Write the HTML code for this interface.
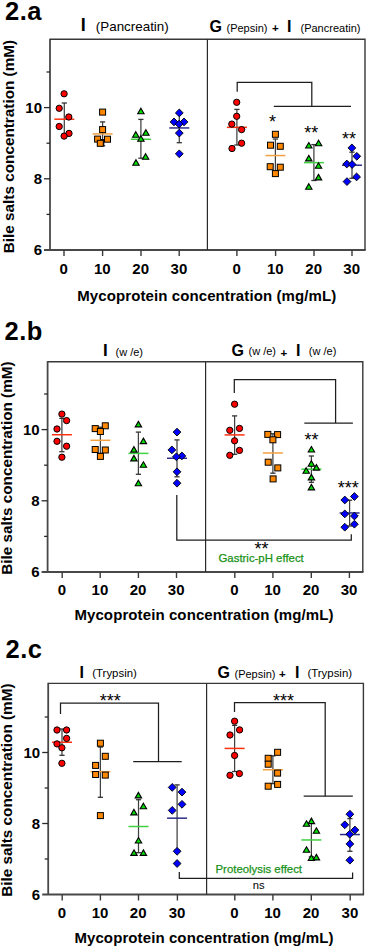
<!DOCTYPE html>
<html><head><meta charset="utf-8"><style>
html,body{margin:0;padding:0;background:#fff;width:367px;height:947px;overflow:hidden;position:relative}
svg text{font-family:"Liberation Sans", sans-serif}
</style></head><body>
<svg width="367" height="947" viewBox="0 0 367 947" style="position:absolute;left:0;top:0;font-family:'Liberation Sans', sans-serif">
<text x="5" y="20" font-size="25.5" font-weight="700" text-anchor="start" fill="#000" letter-spacing="0.5">2.a</text>
<line x1="50" y1="38.7" x2="50" y2="250" stroke="#484848" stroke-width="1.8"/>
<line x1="44" y1="250" x2="365.7" y2="250" stroke="#484848" stroke-width="1.8"/>
<path d="M50,39.3 H365 V250" fill="none" stroke="#383838" stroke-width="1.4"/>
<line x1="207.4" y1="39.3" x2="207.4" y2="250" stroke="#2a2a2a" stroke-width="1.2"/>
<text x="42" y="255.3" font-size="15" font-weight="700" text-anchor="end" fill="#000" >6</text>
<line x1="46.5" y1="214.4" x2="50" y2="214.4" stroke="#2a2a2a" stroke-width="1.3"/>
<line x1="44" y1="178.8" x2="50" y2="178.8" stroke="#2a2a2a" stroke-width="1.3"/>
<text x="42" y="184.1" font-size="15" font-weight="700" text-anchor="end" fill="#000" >8</text>
<line x1="46.5" y1="143.2" x2="50" y2="143.2" stroke="#2a2a2a" stroke-width="1.3"/>
<line x1="44" y1="107.6" x2="50" y2="107.6" stroke="#2a2a2a" stroke-width="1.3"/>
<text x="42" y="112.9" font-size="15" font-weight="700" text-anchor="end" fill="#000" >10</text>
<line x1="46.5" y1="72.0" x2="50" y2="72.0" stroke="#2a2a2a" stroke-width="1.3"/>
<line x1="64" y1="250" x2="64" y2="256" stroke="#3a3a3a" stroke-width="1.4"/>
<text x="63.7" y="274" font-size="15" font-weight="700" text-anchor="middle" fill="#000" >0</text>
<line x1="102.6" y1="250" x2="102.6" y2="256" stroke="#3a3a3a" stroke-width="1.4"/>
<text x="102.3" y="274" font-size="15" font-weight="700" text-anchor="middle" fill="#000" >10</text>
<line x1="141" y1="250" x2="141" y2="256" stroke="#3a3a3a" stroke-width="1.4"/>
<text x="140.7" y="274" font-size="15" font-weight="700" text-anchor="middle" fill="#000" >20</text>
<line x1="179.2" y1="250" x2="179.2" y2="256" stroke="#3a3a3a" stroke-width="1.4"/>
<text x="178.9" y="274" font-size="15" font-weight="700" text-anchor="middle" fill="#000" >30</text>
<line x1="236.9" y1="250" x2="236.9" y2="256" stroke="#3a3a3a" stroke-width="1.4"/>
<text x="236.6" y="274" font-size="15" font-weight="700" text-anchor="middle" fill="#000" >0</text>
<line x1="275.6" y1="250" x2="275.6" y2="256" stroke="#3a3a3a" stroke-width="1.4"/>
<text x="275.3" y="274" font-size="15" font-weight="700" text-anchor="middle" fill="#000" >10</text>
<line x1="314" y1="250" x2="314" y2="256" stroke="#3a3a3a" stroke-width="1.4"/>
<text x="313.7" y="274" font-size="15" font-weight="700" text-anchor="middle" fill="#000" >20</text>
<line x1="352" y1="250" x2="352" y2="256" stroke="#3a3a3a" stroke-width="1.4"/>
<text x="351.7" y="274" font-size="15" font-weight="700" text-anchor="middle" fill="#000" >30</text>
<text x="14.3" y="253.2" font-size="15.3" font-weight="700" text-anchor="start" fill="#000" transform="rotate(-90 14.3 253.2)">Bile salts concentration (mM)</text>
<text x="77.2" y="301" font-size="15" font-weight="700" text-anchor="start" fill="#000" letter-spacing="0.1">Mycoprotein concentration (mg/mL)</text>
<text x="80.8" y="31.4" font-size="18" font-weight="700" text-anchor="start" fill="#000" >I</text>
<text x="95.8" y="31" font-size="13.4" font-weight="400" text-anchor="start" fill="#000" >(Pancreatin)</text>
<text x="209.5" y="31.7" font-size="16" font-weight="700" text-anchor="start" fill="#000" >G</text>
<text x="226.5" y="32" font-size="11" font-weight="400" text-anchor="start" fill="#000" >(Pepsin)</text>
<text x="272" y="32" font-size="11.5" font-weight="700" text-anchor="start" fill="#000" >+</text>
<text x="287" y="31.7" font-size="16" font-weight="700" text-anchor="start" fill="#000" >I</text>
<text x="300.5" y="32" font-size="11" font-weight="400" text-anchor="start" fill="#000" >(Pancreatin)</text>
<line x1="64.3" y1="103" x2="64.3" y2="135.37" stroke="#404040" stroke-width="1.25"/>
<line x1="61.7" y1="103" x2="66.9" y2="103" stroke="#333" stroke-width="1.3"/>
<line x1="61.7" y1="135.37" x2="66.9" y2="135.37" stroke="#333" stroke-width="1.3"/>
<line x1="54.3" y1="119.18" x2="74.3" y2="119.18" stroke="#ff3010" stroke-width="1.5"/>
<circle cx="64.1" cy="93.8" r="3.15" fill="#ff0000" stroke="#000" stroke-width="1"/>
<circle cx="59.2" cy="108.3" r="3.15" fill="#ff0000" stroke="#000" stroke-width="1"/>
<circle cx="68.8" cy="117" r="3.15" fill="#ff0000" stroke="#000" stroke-width="1"/>
<circle cx="59.2" cy="126.5" r="3.15" fill="#ff0000" stroke="#000" stroke-width="1"/>
<circle cx="69" cy="133.4" r="3.15" fill="#ff0000" stroke="#000" stroke-width="1"/>
<circle cx="64.1" cy="136.1" r="3.15" fill="#ff0000" stroke="#000" stroke-width="1"/>
<line x1="102.6" y1="121.9" x2="102.6" y2="145.83" stroke="#404040" stroke-width="1.25"/>
<line x1="100.0" y1="121.9" x2="105.2" y2="121.9" stroke="#333" stroke-width="1.3"/>
<line x1="100.0" y1="145.83" x2="105.2" y2="145.83" stroke="#333" stroke-width="1.3"/>
<line x1="92.6" y1="133.9" x2="112.6" y2="133.9" stroke="#f5a040" stroke-width="1.5"/>
<rect x="97.8" y="139.6" width="6" height="6" fill="#ff8800" stroke="#000" stroke-width="1"/>
<rect x="99.6" y="109.1" width="6" height="6" fill="#ff8800" stroke="#000" stroke-width="1"/>
<rect x="99.6" y="126.6" width="6" height="6" fill="#ff8800" stroke="#000" stroke-width="1"/>
<rect x="94.6" y="136.1" width="6" height="6" fill="#ff8800" stroke="#000" stroke-width="1"/>
<rect x="104.5" y="136.2" width="6" height="6" fill="#ff8800" stroke="#000" stroke-width="1"/>
<rect x="97.3" y="140.3" width="6" height="6" fill="#ff8800" stroke="#000" stroke-width="1"/>
<line x1="140.9" y1="119.4" x2="140.9" y2="158.2" stroke="#404040" stroke-width="1.25"/>
<line x1="138.3" y1="119.4" x2="143.5" y2="119.4" stroke="#333" stroke-width="1.3"/>
<line x1="138.3" y1="158.2" x2="143.5" y2="158.2" stroke="#333" stroke-width="1.3"/>
<line x1="130.9" y1="139.25" x2="150.9" y2="139.25" stroke="#40d040" stroke-width="1.5"/>
<path d="M140.9,108.2 L144.1,113.7 L137.7,113.7 Z" fill="#00dd00" stroke="#000" stroke-width="1.1" stroke-linejoin="miter"/>
<path d="M135.8,131.7 L139.0,137.2 L132.6,137.2 Z" fill="#00dd00" stroke="#000" stroke-width="1.1" stroke-linejoin="miter"/>
<path d="M145.9,129.7 L149.1,135.2 L142.7,135.2 Z" fill="#00dd00" stroke="#000" stroke-width="1.1" stroke-linejoin="miter"/>
<path d="M140.9,135.7 L144.1,141.2 L137.7,141.2 Z" fill="#00dd00" stroke="#000" stroke-width="1.1" stroke-linejoin="miter"/>
<path d="M145.6,153.7 L148.8,159.2 L142.4,159.2 Z" fill="#00dd00" stroke="#000" stroke-width="1.1" stroke-linejoin="miter"/>
<path d="M136,159.7 L139.2,165.2 L132.8,165.2 Z" fill="#00dd00" stroke="#000" stroke-width="1.1" stroke-linejoin="miter"/>
<line x1="179.3" y1="113.74" x2="179.3" y2="142.7" stroke="#404040" stroke-width="1.25"/>
<line x1="176.7" y1="113.74" x2="181.9" y2="113.74" stroke="#333" stroke-width="1.3"/>
<line x1="176.7" y1="142.7" x2="181.9" y2="142.7" stroke="#333" stroke-width="1.3"/>
<line x1="169.3" y1="127.95" x2="189.3" y2="127.95" stroke="#2c2c8a" stroke-width="1.5"/>
<path d="M179.3,109.0 L183.2,112.9 L179.3,116.8 L175.4,112.9 Z" fill="#0000ff" stroke="#000" stroke-width="0.9"/>
<path d="M174,118.0 L177.9,121.9 L174,125.8 L170.1,121.9 Z" fill="#0000ff" stroke="#000" stroke-width="0.9"/>
<path d="M184,118.0 L187.9,121.9 L184,125.8 L180.1,121.9 Z" fill="#0000ff" stroke="#000" stroke-width="0.9"/>
<path d="M179.1,120.2 L183.0,124.1 L179.1,128.0 L175.2,124.1 Z" fill="#0000ff" stroke="#000" stroke-width="0.9"/>
<path d="M179.3,129.2 L183.2,133.1 L179.3,137.0 L175.4,133.1 Z" fill="#0000ff" stroke="#000" stroke-width="0.9"/>
<path d="M179.3,149.9 L183.2,153.8 L179.3,157.7 L175.4,153.8 Z" fill="#0000ff" stroke="#000" stroke-width="0.9"/>
<line x1="236.9" y1="109.4" x2="236.9" y2="145" stroke="#404040" stroke-width="1.25"/>
<line x1="234.3" y1="109.4" x2="239.5" y2="109.4" stroke="#333" stroke-width="1.3"/>
<line x1="234.3" y1="145" x2="239.5" y2="145" stroke="#333" stroke-width="1.3"/>
<line x1="226.9" y1="127.33" x2="246.9" y2="127.33" stroke="#ff3010" stroke-width="1.5"/>
<circle cx="236.7" cy="102.3" r="3.15" fill="#ff0000" stroke="#000" stroke-width="1"/>
<circle cx="236.7" cy="116.3" r="3.15" fill="#ff0000" stroke="#000" stroke-width="1"/>
<circle cx="231.8" cy="124.1" r="3.15" fill="#ff0000" stroke="#000" stroke-width="1"/>
<circle cx="241.6" cy="129.6" r="3.15" fill="#ff0000" stroke="#000" stroke-width="1"/>
<circle cx="241.6" cy="143.2" r="3.15" fill="#ff0000" stroke="#000" stroke-width="1"/>
<circle cx="232" cy="148.5" r="3.15" fill="#ff0000" stroke="#000" stroke-width="1"/>
<line x1="275.4" y1="139" x2="275.4" y2="171.23" stroke="#404040" stroke-width="1.25"/>
<line x1="272.8" y1="139" x2="278.0" y2="139" stroke="#333" stroke-width="1.3"/>
<line x1="272.8" y1="171.23" x2="278.0" y2="171.23" stroke="#333" stroke-width="1.3"/>
<line x1="265.4" y1="155.55" x2="285.4" y2="155.55" stroke="#f5a040" stroke-width="1.5"/>
<rect x="272.4" y="131.3" width="6" height="6" fill="#ff8800" stroke="#000" stroke-width="1"/>
<rect x="267.5" y="142.2" width="6" height="6" fill="#ff8800" stroke="#000" stroke-width="1"/>
<rect x="277.3" y="143.3" width="6" height="6" fill="#ff8800" stroke="#000" stroke-width="1"/>
<rect x="267.2" y="163.7" width="6" height="6" fill="#ff8800" stroke="#000" stroke-width="1"/>
<rect x="277.3" y="164.2" width="6" height="6" fill="#ff8800" stroke="#000" stroke-width="1"/>
<rect x="272.4" y="170.6" width="6" height="6" fill="#ff8800" stroke="#000" stroke-width="1"/>
<line x1="313.9" y1="144.6" x2="313.9" y2="180.5" stroke="#404040" stroke-width="1.25"/>
<line x1="311.3" y1="144.6" x2="316.5" y2="144.6" stroke="#333" stroke-width="1.3"/>
<line x1="311.3" y1="180.5" x2="316.5" y2="180.5" stroke="#333" stroke-width="1.3"/>
<line x1="303.9" y1="162.63" x2="323.9" y2="162.63" stroke="#40d040" stroke-width="1.5"/>
<path d="M318.6,140.2 L321.8,145.7 L315.4,145.7 Z" fill="#00dd00" stroke="#000" stroke-width="1.1" stroke-linejoin="miter"/>
<path d="M308.8,142.5 L312.0,148.0 L305.6,148.0 Z" fill="#00dd00" stroke="#000" stroke-width="1.1" stroke-linejoin="miter"/>
<path d="M308.8,155.4 L312.0,160.9 L305.6,160.9 Z" fill="#00dd00" stroke="#000" stroke-width="1.1" stroke-linejoin="miter"/>
<path d="M318.5,162.8 L321.7,168.3 L315.3,168.3 Z" fill="#00dd00" stroke="#000" stroke-width="1.1" stroke-linejoin="miter"/>
<path d="M318.5,174.4 L321.7,179.9 L315.3,179.9 Z" fill="#00dd00" stroke="#000" stroke-width="1.1" stroke-linejoin="miter"/>
<path d="M308.8,183.7 L312.0,189.2 L305.6,189.2 Z" fill="#00dd00" stroke="#000" stroke-width="1.1" stroke-linejoin="miter"/>
<line x1="352" y1="152.2" x2="352" y2="178.3" stroke="#404040" stroke-width="1.25"/>
<line x1="349.4" y1="152.2" x2="354.6" y2="152.2" stroke="#333" stroke-width="1.3"/>
<line x1="349.4" y1="178.3" x2="354.6" y2="178.3" stroke="#333" stroke-width="1.3"/>
<line x1="342" y1="165.2" x2="362" y2="165.2" stroke="#2c2c8a" stroke-width="1.5"/>
<path d="M351.9,144.0 L355.8,147.9 L351.9,151.8 L348.0,147.9 Z" fill="#0000ff" stroke="#000" stroke-width="0.9"/>
<path d="M356.8,152.4 L360.7,156.3 L356.8,160.2 L352.9,156.3 Z" fill="#0000ff" stroke="#000" stroke-width="0.9"/>
<path d="M346.8,160.1 L350.7,164 L346.8,167.9 L342.9,164 Z" fill="#0000ff" stroke="#000" stroke-width="0.9"/>
<path d="M352.1,160.6 L356.0,164.5 L352.1,168.4 L348.2,164.5 Z" fill="#0000ff" stroke="#000" stroke-width="0.9"/>
<path d="M356.6,173.0 L360.5,176.9 L356.6,180.8 L352.7,176.9 Z" fill="#0000ff" stroke="#000" stroke-width="0.9"/>
<path d="M347,177.7 L350.9,181.6 L347,185.5 L343.1,181.6 Z" fill="#0000ff" stroke="#000" stroke-width="0.9"/>
<path d="M237.2,91.7 V82.4 H311.8 V106.3" fill="none" stroke="#1e1e1e" stroke-width="1.25"/>
<line x1="273.8" y1="106.3" x2="351" y2="106.3" stroke="#1e1e1e" stroke-width="1.25"/>
<text x="272.4" y="127.8" font-size="18" font-weight="400" text-anchor="middle" fill="#000" >*</text>
<text x="311.2" y="139.3" font-size="18" font-weight="400" text-anchor="middle" fill="#000" >**</text>
<text x="348.9" y="144.5" font-size="18" font-weight="400" text-anchor="middle" fill="#000" >**</text>
<text x="4.5" y="340.2" font-size="25.5" font-weight="700" text-anchor="start" fill="#000" letter-spacing="0.5">2.b</text>
<line x1="47.6" y1="361.1" x2="47.6" y2="572" stroke="#484848" stroke-width="1.8"/>
<line x1="41.6" y1="572" x2="363.5" y2="572" stroke="#484848" stroke-width="1.8"/>
<path d="M47.6,361.7 H362.8 V572" fill="none" stroke="#383838" stroke-width="1.4"/>
<line x1="205.6" y1="361.7" x2="205.6" y2="572" stroke="#2a2a2a" stroke-width="1.2"/>
<text x="39.6" y="577.3" font-size="15" font-weight="700" text-anchor="end" fill="#000" >6</text>
<line x1="44.1" y1="536.4" x2="47.6" y2="536.4" stroke="#2a2a2a" stroke-width="1.3"/>
<line x1="41.6" y1="500.8" x2="47.6" y2="500.8" stroke="#2a2a2a" stroke-width="1.3"/>
<text x="39.6" y="506.1" font-size="15" font-weight="700" text-anchor="end" fill="#000" >8</text>
<line x1="44.1" y1="465.2" x2="47.6" y2="465.2" stroke="#2a2a2a" stroke-width="1.3"/>
<line x1="41.6" y1="429.6" x2="47.6" y2="429.6" stroke="#2a2a2a" stroke-width="1.3"/>
<text x="39.6" y="434.9" font-size="15" font-weight="700" text-anchor="end" fill="#000" >10</text>
<line x1="44.1" y1="394.0" x2="47.6" y2="394.0" stroke="#2a2a2a" stroke-width="1.3"/>
<line x1="62.2" y1="572" x2="62.2" y2="578" stroke="#3a3a3a" stroke-width="1.4"/>
<text x="61.9" y="595.2" font-size="15" font-weight="700" text-anchor="middle" fill="#000" >0</text>
<line x1="100.2" y1="572" x2="100.2" y2="578" stroke="#3a3a3a" stroke-width="1.4"/>
<text x="99.9" y="595.2" font-size="15" font-weight="700" text-anchor="middle" fill="#000" >10</text>
<line x1="138.4" y1="572" x2="138.4" y2="578" stroke="#3a3a3a" stroke-width="1.4"/>
<text x="138.1" y="595.2" font-size="15" font-weight="700" text-anchor="middle" fill="#000" >20</text>
<line x1="176.5" y1="572" x2="176.5" y2="578" stroke="#3a3a3a" stroke-width="1.4"/>
<text x="176.2" y="595.2" font-size="15" font-weight="700" text-anchor="middle" fill="#000" >30</text>
<line x1="234.8" y1="572" x2="234.8" y2="578" stroke="#3a3a3a" stroke-width="1.4"/>
<text x="234.5" y="595.2" font-size="15" font-weight="700" text-anchor="middle" fill="#000" >0</text>
<line x1="272.9" y1="572" x2="272.9" y2="578" stroke="#3a3a3a" stroke-width="1.4"/>
<text x="272.6" y="595.2" font-size="15" font-weight="700" text-anchor="middle" fill="#000" >10</text>
<line x1="311.3" y1="572" x2="311.3" y2="578" stroke="#3a3a3a" stroke-width="1.4"/>
<text x="311.0" y="595.2" font-size="15" font-weight="700" text-anchor="middle" fill="#000" >20</text>
<line x1="349.4" y1="572" x2="349.4" y2="578" stroke="#3a3a3a" stroke-width="1.4"/>
<text x="349.1" y="595.2" font-size="15" font-weight="700" text-anchor="middle" fill="#000" >30</text>
<text x="12" y="574.7" font-size="15.3" font-weight="700" text-anchor="start" fill="#000" transform="rotate(-90 12 574.7)">Bile salts concentration (mM)</text>
<text x="74.4" y="620" font-size="15" font-weight="700" text-anchor="start" fill="#000" letter-spacing="0.1">Mycoprotein concentration (mg/mL)</text>
<text x="103" y="356" font-size="17" font-weight="700" text-anchor="start" fill="#000" >I</text>
<text x="115.5" y="355.5" font-size="11" font-weight="400" text-anchor="start" fill="#000" >(w /e)</text>
<text x="231.5" y="356" font-size="16" font-weight="700" text-anchor="start" fill="#000" >G</text>
<text x="248.5" y="355.2" font-size="11" font-weight="400" text-anchor="start" fill="#000" >(w /e)</text>
<text x="280.5" y="356.5" font-size="11.5" font-weight="700" text-anchor="start" fill="#000" >+</text>
<text x="296" y="356" font-size="16" font-weight="700" text-anchor="start" fill="#000" >I</text>
<text x="308.8" y="355.2" font-size="11" font-weight="400" text-anchor="start" fill="#000" >(w /e)</text>
<line x1="61.9" y1="418.38" x2="61.9" y2="451.7" stroke="#404040" stroke-width="1.25"/>
<line x1="59.3" y1="418.38" x2="64.5" y2="418.38" stroke="#333" stroke-width="1.3"/>
<line x1="59.3" y1="451.7" x2="64.5" y2="451.7" stroke="#333" stroke-width="1.3"/>
<line x1="51.9" y1="434.73" x2="71.9" y2="434.73" stroke="#ff3010" stroke-width="1.5"/>
<circle cx="61.9" cy="414.1" r="3.15" fill="#ff0000" stroke="#000" stroke-width="1"/>
<circle cx="66.6" cy="420.6" r="3.15" fill="#ff0000" stroke="#000" stroke-width="1"/>
<circle cx="57" cy="429" r="3.15" fill="#ff0000" stroke="#000" stroke-width="1"/>
<circle cx="57" cy="441.3" r="3.15" fill="#ff0000" stroke="#000" stroke-width="1"/>
<circle cx="66.6" cy="446.2" r="3.15" fill="#ff0000" stroke="#000" stroke-width="1"/>
<circle cx="61.9" cy="457.2" r="3.15" fill="#ff0000" stroke="#000" stroke-width="1"/>
<line x1="100.4" y1="427.17" x2="100.4" y2="453.43" stroke="#404040" stroke-width="1.25"/>
<line x1="97.8" y1="427.17" x2="103.0" y2="427.17" stroke="#333" stroke-width="1.3"/>
<line x1="97.8" y1="453.43" x2="103.0" y2="453.43" stroke="#333" stroke-width="1.3"/>
<line x1="90.4" y1="440.3" x2="110.4" y2="440.3" stroke="#f5a040" stroke-width="1.5"/>
<rect x="102.3" y="422.8" width="6" height="6" fill="#ff8800" stroke="#000" stroke-width="1"/>
<rect x="92.2" y="425.6" width="6" height="6" fill="#ff8800" stroke="#000" stroke-width="1"/>
<rect x="97.4" y="428.5" width="6" height="6" fill="#ff8800" stroke="#000" stroke-width="1"/>
<rect x="92.2" y="446.5" width="6" height="6" fill="#ff8800" stroke="#000" stroke-width="1"/>
<rect x="102.3" y="447" width="6" height="6" fill="#ff8800" stroke="#000" stroke-width="1"/>
<rect x="97.4" y="453.4" width="6" height="6" fill="#ff8800" stroke="#000" stroke-width="1"/>
<line x1="138.4" y1="432.1" x2="138.4" y2="474.3" stroke="#404040" stroke-width="1.25"/>
<line x1="135.8" y1="432.1" x2="141.0" y2="432.1" stroke="#333" stroke-width="1.3"/>
<line x1="135.8" y1="474.3" x2="141.0" y2="474.3" stroke="#333" stroke-width="1.3"/>
<line x1="128.4" y1="453.38" x2="148.4" y2="453.38" stroke="#40d040" stroke-width="1.5"/>
<path d="M138.4,421.4 L141.6,426.9 L135.2,426.9 Z" fill="#00dd00" stroke="#000" stroke-width="1.1" stroke-linejoin="miter"/>
<path d="M143.4,438.1 L146.6,443.6 L140.2,443.6 Z" fill="#00dd00" stroke="#000" stroke-width="1.1" stroke-linejoin="miter"/>
<path d="M133.9,446.6 L137.1,452.1 L130.7,452.1 Z" fill="#00dd00" stroke="#000" stroke-width="1.1" stroke-linejoin="miter"/>
<path d="M133.9,455.4 L137.1,460.9 L130.7,460.9 Z" fill="#00dd00" stroke="#000" stroke-width="1.1" stroke-linejoin="miter"/>
<path d="M143.4,461.8 L146.6,467.3 L140.2,467.3 Z" fill="#00dd00" stroke="#000" stroke-width="1.1" stroke-linejoin="miter"/>
<path d="M138.4,480.2 L141.6,485.7 L135.2,485.7 Z" fill="#00dd00" stroke="#000" stroke-width="1.1" stroke-linejoin="miter"/>
<line x1="177" y1="439.9" x2="177" y2="476.8" stroke="#404040" stroke-width="1.25"/>
<line x1="174.4" y1="439.9" x2="179.6" y2="439.9" stroke="#333" stroke-width="1.3"/>
<line x1="174.4" y1="476.8" x2="179.6" y2="476.8" stroke="#333" stroke-width="1.3"/>
<line x1="167" y1="458.28" x2="187" y2="458.28" stroke="#2c2c8a" stroke-width="1.5"/>
<path d="M177,428.2 L180.9,432.1 L177,436.0 L173.1,432.1 Z" fill="#0000ff" stroke="#000" stroke-width="0.9"/>
<path d="M171.9,446.0 L175.8,449.9 L171.9,453.8 L168.0,449.9 Z" fill="#0000ff" stroke="#000" stroke-width="0.9"/>
<path d="M181.9,452.0 L185.8,455.9 L181.9,459.8 L178.0,455.9 Z" fill="#0000ff" stroke="#000" stroke-width="0.9"/>
<path d="M176.4,452.9 L180.3,456.8 L176.4,460.7 L172.5,456.8 Z" fill="#0000ff" stroke="#000" stroke-width="0.9"/>
<path d="M177,467.9 L180.9,471.8 L177,475.7 L173.1,471.8 Z" fill="#0000ff" stroke="#000" stroke-width="0.9"/>
<path d="M177,479.3 L180.9,483.2 L177,487.1 L173.1,483.2 Z" fill="#0000ff" stroke="#000" stroke-width="0.9"/>
<line x1="234.6" y1="415.9" x2="234.6" y2="454.3" stroke="#404040" stroke-width="1.25"/>
<line x1="232.0" y1="415.9" x2="237.2" y2="415.9" stroke="#333" stroke-width="1.3"/>
<line x1="232.0" y1="454.3" x2="237.2" y2="454.3" stroke="#333" stroke-width="1.3"/>
<line x1="224.6" y1="434.9" x2="244.6" y2="434.9" stroke="#ff3010" stroke-width="1.5"/>
<circle cx="234.6" cy="404.2" r="3.15" fill="#ff0000" stroke="#000" stroke-width="1"/>
<circle cx="239.5" cy="428.4" r="3.15" fill="#ff0000" stroke="#000" stroke-width="1"/>
<circle cx="229.8" cy="430.3" r="3.15" fill="#ff0000" stroke="#000" stroke-width="1"/>
<circle cx="234.6" cy="440.8" r="3.15" fill="#ff0000" stroke="#000" stroke-width="1"/>
<circle cx="239.5" cy="450.4" r="3.15" fill="#ff0000" stroke="#000" stroke-width="1"/>
<circle cx="229.8" cy="455.3" r="3.15" fill="#ff0000" stroke="#000" stroke-width="1"/>
<line x1="272.9" y1="433.8" x2="272.9" y2="473.2" stroke="#404040" stroke-width="1.25"/>
<line x1="270.3" y1="433.8" x2="275.5" y2="433.8" stroke="#333" stroke-width="1.3"/>
<line x1="270.3" y1="473.2" x2="275.5" y2="473.2" stroke="#333" stroke-width="1.3"/>
<line x1="262.9" y1="452.97" x2="282.9" y2="452.97" stroke="#f5a040" stroke-width="1.5"/>
<rect x="264.8" y="431.4" width="6" height="6" fill="#ff8800" stroke="#000" stroke-width="1"/>
<rect x="274.6" y="431.6" width="6" height="6" fill="#ff8800" stroke="#000" stroke-width="1"/>
<rect x="269.9" y="436.8" width="6" height="6" fill="#ff8800" stroke="#000" stroke-width="1"/>
<rect x="265.2" y="459.2" width="6" height="6" fill="#ff8800" stroke="#000" stroke-width="1"/>
<rect x="274.8" y="464.9" width="6" height="6" fill="#ff8800" stroke="#000" stroke-width="1"/>
<rect x="270.1" y="475.9" width="6" height="6" fill="#ff8800" stroke="#000" stroke-width="1"/>
<line x1="311.4" y1="456" x2="311.4" y2="482.3" stroke="#404040" stroke-width="1.25"/>
<line x1="308.8" y1="456" x2="314.0" y2="456" stroke="#333" stroke-width="1.3"/>
<line x1="308.8" y1="482.3" x2="314.0" y2="482.3" stroke="#333" stroke-width="1.3"/>
<line x1="301.4" y1="469.18" x2="321.4" y2="469.18" stroke="#40d040" stroke-width="1.5"/>
<path d="M311.4,446.5 L314.6,452.0 L308.2,452.0 Z" fill="#00dd00" stroke="#000" stroke-width="1.1" stroke-linejoin="miter"/>
<path d="M311.4,460.7 L314.6,466.2 L308.2,466.2 Z" fill="#00dd00" stroke="#000" stroke-width="1.1" stroke-linejoin="miter"/>
<path d="M316.4,464.6 L319.6,470.1 L313.2,470.1 Z" fill="#00dd00" stroke="#000" stroke-width="1.1" stroke-linejoin="miter"/>
<path d="M306.2,467.7 L309.4,473.2 L303.0,473.2 Z" fill="#00dd00" stroke="#000" stroke-width="1.1" stroke-linejoin="miter"/>
<path d="M311.4,474.4 L314.6,479.9 L308.2,479.9 Z" fill="#00dd00" stroke="#000" stroke-width="1.1" stroke-linejoin="miter"/>
<path d="M311.4,484.4 L314.6,489.9 L308.2,489.9 Z" fill="#00dd00" stroke="#000" stroke-width="1.1" stroke-linejoin="miter"/>
<line x1="349.6" y1="500.2" x2="349.6" y2="526" stroke="#404040" stroke-width="1.25"/>
<line x1="347.0" y1="500.2" x2="352.2" y2="500.2" stroke="#333" stroke-width="1.3"/>
<line x1="347.0" y1="526" x2="352.2" y2="526" stroke="#333" stroke-width="1.3"/>
<line x1="339.6" y1="512.97" x2="359.6" y2="512.97" stroke="#2c2c8a" stroke-width="1.5"/>
<path d="M354.4,492.6 L358.3,496.5 L354.4,500.4 L350.5,496.5 Z" fill="#0000ff" stroke="#000" stroke-width="0.9"/>
<path d="M344.8,496.1 L348.7,500 L344.8,503.9 L340.9,500 Z" fill="#0000ff" stroke="#000" stroke-width="0.9"/>
<path d="M344.8,510.0 L348.7,513.9 L344.8,517.8 L340.9,513.9 Z" fill="#0000ff" stroke="#000" stroke-width="0.9"/>
<path d="M354.4,512.1 L358.3,516 L354.4,519.9 L350.5,516 Z" fill="#0000ff" stroke="#000" stroke-width="0.9"/>
<path d="M354.4,520.3 L358.3,524.2 L354.4,528.1 L350.5,524.2 Z" fill="#0000ff" stroke="#000" stroke-width="0.9"/>
<path d="M344.8,523.3 L348.7,527.2 L344.8,531.1 L340.9,527.2 Z" fill="#0000ff" stroke="#000" stroke-width="0.9"/>
<path d="M234.3,393 V379.5 H335.6 V423" fill="none" stroke="#1e1e1e" stroke-width="1.25"/>
<line x1="304.3" y1="423" x2="352.9" y2="423" stroke="#1e1e1e" stroke-width="1.25"/>
<text x="311.6" y="445.5" font-size="18" font-weight="400" text-anchor="middle" fill="#000" >**</text>
<text x="348.3" y="494" font-size="18" font-weight="400" text-anchor="middle" fill="#000" >***</text>
<path d="M176.8,495 V540.2 H351.3 V534.2" fill="none" stroke="#1e1e1e" stroke-width="1.25"/>
<text x="261.5" y="554.5" font-size="18" font-weight="400" text-anchor="middle" fill="#000" >**</text>
<text x="218.5" y="561.5" font-size="11.4" font-weight="400" text-anchor="start" fill="#1a921a" stroke="#1a921a" stroke-width="0.25">Gastric-pH effect</text>
<text x="5.5" y="658.2" font-size="25.5" font-weight="700" text-anchor="start" fill="#000" letter-spacing="0.5">2.c</text>
<line x1="48.2" y1="682.8" x2="48.2" y2="894.5" stroke="#484848" stroke-width="1.8"/>
<line x1="42.2" y1="894.5" x2="364.1" y2="894.5" stroke="#484848" stroke-width="1.8"/>
<path d="M48.2,683.4 H363.4 V894.5" fill="none" stroke="#383838" stroke-width="1.4"/>
<line x1="206.6" y1="683.4" x2="206.6" y2="894.5" stroke="#2a2a2a" stroke-width="1.2"/>
<text x="40.2" y="899.8" font-size="15" font-weight="700" text-anchor="end" fill="#000" >6</text>
<line x1="44.7" y1="859.0" x2="48.2" y2="859.0" stroke="#2a2a2a" stroke-width="1.3"/>
<line x1="42.2" y1="823.5" x2="48.2" y2="823.5" stroke="#2a2a2a" stroke-width="1.3"/>
<text x="40.2" y="828.8" font-size="15" font-weight="700" text-anchor="end" fill="#000" >8</text>
<line x1="44.7" y1="788.0" x2="48.2" y2="788.0" stroke="#2a2a2a" stroke-width="1.3"/>
<line x1="42.2" y1="752.5" x2="48.2" y2="752.5" stroke="#2a2a2a" stroke-width="1.3"/>
<text x="40.2" y="757.8" font-size="15" font-weight="700" text-anchor="end" fill="#000" >10</text>
<line x1="44.7" y1="717.0" x2="48.2" y2="717.0" stroke="#2a2a2a" stroke-width="1.3"/>
<line x1="62.2" y1="894.5" x2="62.2" y2="900.5" stroke="#3a3a3a" stroke-width="1.4"/>
<text x="61.9" y="917.7" font-size="15" font-weight="700" text-anchor="middle" fill="#000" >0</text>
<line x1="100.4" y1="894.5" x2="100.4" y2="900.5" stroke="#3a3a3a" stroke-width="1.4"/>
<text x="100.1" y="917.7" font-size="15" font-weight="700" text-anchor="middle" fill="#000" >10</text>
<line x1="138.5" y1="894.5" x2="138.5" y2="900.5" stroke="#3a3a3a" stroke-width="1.4"/>
<text x="138.2" y="917.7" font-size="15" font-weight="700" text-anchor="middle" fill="#000" >20</text>
<line x1="177.4" y1="894.5" x2="177.4" y2="900.5" stroke="#3a3a3a" stroke-width="1.4"/>
<text x="177.1" y="917.7" font-size="15" font-weight="700" text-anchor="middle" fill="#000" >30</text>
<line x1="234.8" y1="894.5" x2="234.8" y2="900.5" stroke="#3a3a3a" stroke-width="1.4"/>
<text x="234.5" y="917.7" font-size="15" font-weight="700" text-anchor="middle" fill="#000" >0</text>
<line x1="272.9" y1="894.5" x2="272.9" y2="900.5" stroke="#3a3a3a" stroke-width="1.4"/>
<text x="272.6" y="917.7" font-size="15" font-weight="700" text-anchor="middle" fill="#000" >10</text>
<line x1="311.3" y1="894.5" x2="311.3" y2="900.5" stroke="#3a3a3a" stroke-width="1.4"/>
<text x="311.0" y="917.7" font-size="15" font-weight="700" text-anchor="middle" fill="#000" >20</text>
<line x1="350.2" y1="894.5" x2="350.2" y2="900.5" stroke="#3a3a3a" stroke-width="1.4"/>
<text x="349.9" y="917.7" font-size="15" font-weight="700" text-anchor="middle" fill="#000" >30</text>
<text x="12.3" y="896.8" font-size="15.3" font-weight="700" text-anchor="start" fill="#000" transform="rotate(-90 12.3 896.8)">Bile salts concentration (mM)</text>
<text x="74.4" y="943" font-size="15" font-weight="700" text-anchor="start" fill="#000" letter-spacing="0.1">Mycoprotein concentration (mg/mL)</text>
<text x="79.5" y="677.5" font-size="16" font-weight="700" text-anchor="start" fill="#000" >I</text>
<text x="92.3" y="676.5" font-size="11.4" font-weight="400" text-anchor="start" fill="#000" >(Trypsin)</text>
<text x="217.5" y="677.5" font-size="16" font-weight="700" text-anchor="start" fill="#000" >G</text>
<text x="234.5" y="678" font-size="11" font-weight="400" text-anchor="start" fill="#000" >(Pepsin)</text>
<text x="279" y="678" font-size="11.5" font-weight="700" text-anchor="start" fill="#000" >+</text>
<text x="295" y="677.5" font-size="16" font-weight="700" text-anchor="start" fill="#000" >I</text>
<text x="307.5" y="676.5" font-size="11.4" font-weight="400" text-anchor="start" fill="#000" >(Trypsin)</text>
<line x1="62" y1="729" x2="62" y2="755.3" stroke="#404040" stroke-width="1.25"/>
<line x1="59.4" y1="729" x2="64.6" y2="729" stroke="#333" stroke-width="1.3"/>
<line x1="59.4" y1="755.3" x2="64.6" y2="755.3" stroke="#333" stroke-width="1.3"/>
<line x1="52" y1="742.23" x2="72" y2="742.23" stroke="#ff3010" stroke-width="1.5"/>
<circle cx="57" cy="730" r="3.15" fill="#ff0000" stroke="#000" stroke-width="1"/>
<circle cx="66.6" cy="730" r="3.15" fill="#ff0000" stroke="#000" stroke-width="1"/>
<circle cx="66.6" cy="738.4" r="3.15" fill="#ff0000" stroke="#000" stroke-width="1"/>
<circle cx="57" cy="743.9" r="3.15" fill="#ff0000" stroke="#000" stroke-width="1"/>
<circle cx="61.9" cy="747.8" r="3.15" fill="#ff0000" stroke="#000" stroke-width="1"/>
<circle cx="61.9" cy="763.3" r="3.15" fill="#ff0000" stroke="#000" stroke-width="1"/>
<line x1="100.4" y1="747.04" x2="100.4" y2="797.3" stroke="#404040" stroke-width="1.25"/>
<line x1="97.8" y1="747.04" x2="103.0" y2="747.04" stroke="#333" stroke-width="1.3"/>
<line x1="97.8" y1="797.3" x2="103.0" y2="797.3" stroke="#333" stroke-width="1.3"/>
<line x1="90.4" y1="771.68" x2="110.4" y2="771.68" stroke="#f5a040" stroke-width="1.5"/>
<rect x="97.4" y="740.2" width="6" height="6" fill="#ff8800" stroke="#000" stroke-width="1"/>
<rect x="102.3" y="753.3" width="6" height="6" fill="#ff8800" stroke="#000" stroke-width="1"/>
<rect x="92.6" y="762.4" width="6" height="6" fill="#ff8800" stroke="#000" stroke-width="1"/>
<rect x="92.6" y="771.5" width="6" height="6" fill="#ff8800" stroke="#000" stroke-width="1"/>
<rect x="102.3" y="772.1" width="6" height="6" fill="#ff8800" stroke="#000" stroke-width="1"/>
<rect x="97.4" y="812.6" width="6" height="6" fill="#ff8800" stroke="#000" stroke-width="1"/>
<line x1="138.5" y1="799.7" x2="138.5" y2="852.7" stroke="#404040" stroke-width="1.25"/>
<line x1="135.9" y1="799.7" x2="141.1" y2="799.7" stroke="#333" stroke-width="1.3"/>
<line x1="135.9" y1="852.7" x2="141.1" y2="852.7" stroke="#333" stroke-width="1.3"/>
<line x1="128.5" y1="826.52" x2="148.5" y2="826.52" stroke="#40d040" stroke-width="1.5"/>
<path d="M138.4,792.4 L141.6,797.9 L135.2,797.9 Z" fill="#00dd00" stroke="#000" stroke-width="1.1" stroke-linejoin="miter"/>
<path d="M143.4,803.2 L146.6,808.7 L140.2,808.7 Z" fill="#00dd00" stroke="#000" stroke-width="1.1" stroke-linejoin="miter"/>
<path d="M133.9,809.4 L137.1,814.9 L130.7,814.9 Z" fill="#00dd00" stroke="#000" stroke-width="1.1" stroke-linejoin="miter"/>
<path d="M138.5,837.5 L141.7,843.0 L135.3,843.0 Z" fill="#00dd00" stroke="#000" stroke-width="1.1" stroke-linejoin="miter"/>
<path d="M134,849.9 L137.2,855.4 L130.8,855.4 Z" fill="#00dd00" stroke="#000" stroke-width="1.1" stroke-linejoin="miter"/>
<path d="M143.4,849.9 L146.6,855.4 L140.2,855.4 Z" fill="#00dd00" stroke="#000" stroke-width="1.1" stroke-linejoin="miter"/>
<line x1="177.1" y1="784.9" x2="177.1" y2="849.89" stroke="#404040" stroke-width="1.25"/>
<line x1="174.5" y1="784.9" x2="179.7" y2="784.9" stroke="#333" stroke-width="1.3"/>
<line x1="174.5" y1="849.89" x2="179.7" y2="849.89" stroke="#333" stroke-width="1.3"/>
<line x1="167.1" y1="818.17" x2="187.1" y2="818.17" stroke="#2c2c8a" stroke-width="1.5"/>
<path d="M172.2,783.5 L176.1,787.4 L172.2,791.3 L168.3,787.4 Z" fill="#0000ff" stroke="#000" stroke-width="0.9"/>
<path d="M182,788.2 L185.9,792.1 L182,796.0 L178.1,792.1 Z" fill="#0000ff" stroke="#000" stroke-width="0.9"/>
<path d="M182,800.4 L185.9,804.3 L182,808.2 L178.1,804.3 Z" fill="#0000ff" stroke="#000" stroke-width="0.9"/>
<path d="M172.2,806.5 L176.1,810.4 L172.2,814.3 L168.3,810.4 Z" fill="#0000ff" stroke="#000" stroke-width="0.9"/>
<path d="M177.1,847.4 L181.0,851.3 L177.1,855.2 L173.2,851.3 Z" fill="#0000ff" stroke="#000" stroke-width="0.9"/>
<path d="M177.1,859.6 L181.0,863.5 L177.1,867.4 L173.2,863.5 Z" fill="#0000ff" stroke="#000" stroke-width="0.9"/>
<line x1="234.6" y1="725.31" x2="234.6" y2="771.53" stroke="#404040" stroke-width="1.25"/>
<line x1="232.0" y1="725.31" x2="237.2" y2="725.31" stroke="#333" stroke-width="1.3"/>
<line x1="232.0" y1="771.53" x2="237.2" y2="771.53" stroke="#333" stroke-width="1.3"/>
<line x1="224.6" y1="748.42" x2="244.6" y2="748.42" stroke="#ff3010" stroke-width="1.5"/>
<circle cx="234.6" cy="721.2" r="3.15" fill="#ff0000" stroke="#000" stroke-width="1"/>
<circle cx="239.6" cy="729.9" r="3.15" fill="#ff0000" stroke="#000" stroke-width="1"/>
<circle cx="230" cy="735" r="3.15" fill="#ff0000" stroke="#000" stroke-width="1"/>
<circle cx="234.6" cy="755.5" r="3.15" fill="#ff0000" stroke="#000" stroke-width="1"/>
<circle cx="230" cy="775.3" r="3.15" fill="#ff0000" stroke="#000" stroke-width="1"/>
<circle cx="239.4" cy="773.6" r="3.15" fill="#ff0000" stroke="#000" stroke-width="1"/>
<line x1="272.9" y1="755.87" x2="272.9" y2="783.63" stroke="#404040" stroke-width="1.25"/>
<line x1="270.3" y1="755.87" x2="275.5" y2="755.87" stroke="#333" stroke-width="1.3"/>
<line x1="270.3" y1="783.63" x2="275.5" y2="783.63" stroke="#333" stroke-width="1.3"/>
<line x1="262.9" y1="769.75" x2="282.9" y2="769.75" stroke="#f5a040" stroke-width="1.5"/>
<rect x="274.6" y="749.3" width="6" height="6" fill="#ff8800" stroke="#000" stroke-width="1"/>
<rect x="265.2" y="755.3" width="6" height="6" fill="#ff8800" stroke="#000" stroke-width="1"/>
<rect x="265.2" y="761.2" width="6" height="6" fill="#ff8800" stroke="#000" stroke-width="1"/>
<rect x="274.6" y="770.1" width="6" height="6" fill="#ff8800" stroke="#000" stroke-width="1"/>
<rect x="274.6" y="781.4" width="6" height="6" fill="#ff8800" stroke="#000" stroke-width="1"/>
<rect x="265.2" y="783.2" width="6" height="6" fill="#ff8800" stroke="#000" stroke-width="1"/>
<line x1="311.4" y1="823.06" x2="311.4" y2="856.84" stroke="#404040" stroke-width="1.25"/>
<line x1="308.8" y1="823.06" x2="314.0" y2="823.06" stroke="#333" stroke-width="1.3"/>
<line x1="308.8" y1="856.84" x2="314.0" y2="856.84" stroke="#333" stroke-width="1.3"/>
<line x1="301.4" y1="839.95" x2="321.4" y2="839.95" stroke="#40d040" stroke-width="1.5"/>
<path d="M311.4,818.1 L314.6,823.6 L308.2,823.6 Z" fill="#00dd00" stroke="#000" stroke-width="1.1" stroke-linejoin="miter"/>
<path d="M306.5,820.8 L309.7,826.3 L303.3,826.3 Z" fill="#00dd00" stroke="#000" stroke-width="1.1" stroke-linejoin="miter"/>
<path d="M316.4,827.8 L319.6,833.3 L313.2,833.3 Z" fill="#00dd00" stroke="#000" stroke-width="1.1" stroke-linejoin="miter"/>
<path d="M306.5,846.8 L309.7,852.3 L303.3,852.3 Z" fill="#00dd00" stroke="#000" stroke-width="1.1" stroke-linejoin="miter"/>
<path d="M311.4,855.0 L314.6,860.5 L308.2,860.5 Z" fill="#00dd00" stroke="#000" stroke-width="1.1" stroke-linejoin="miter"/>
<path d="M316.4,854.4 L319.6,859.9 L313.2,859.9 Z" fill="#00dd00" stroke="#000" stroke-width="1.1" stroke-linejoin="miter"/>
<line x1="349.9" y1="818.58" x2="349.9" y2="851.3" stroke="#404040" stroke-width="1.25"/>
<line x1="347.3" y1="818.58" x2="352.5" y2="818.58" stroke="#333" stroke-width="1.3"/>
<line x1="347.3" y1="851.3" x2="352.5" y2="851.3" stroke="#333" stroke-width="1.3"/>
<line x1="339.9" y1="834.55" x2="359.9" y2="834.55" stroke="#2c2c8a" stroke-width="1.5"/>
<path d="M349.9,810.3 L353.8,814.2 L349.9,818.1 L346.0,814.2 Z" fill="#0000ff" stroke="#000" stroke-width="0.9"/>
<path d="M344.8,820.9 L348.7,824.8 L344.8,828.7 L340.9,824.8 Z" fill="#0000ff" stroke="#000" stroke-width="0.9"/>
<path d="M354.9,826.1 L358.8,830 L354.9,833.9 L351.0,830 Z" fill="#0000ff" stroke="#000" stroke-width="0.9"/>
<path d="M349.7,830.3 L353.6,834.2 L349.7,838.1 L345.8,834.2 Z" fill="#0000ff" stroke="#000" stroke-width="0.9"/>
<path d="M349.9,840.0 L353.8,843.9 L349.9,847.8 L346.0,843.9 Z" fill="#0000ff" stroke="#000" stroke-width="0.9"/>
<path d="M349.9,856.3 L353.8,860.2 L349.9,864.1 L346.0,860.2 Z" fill="#0000ff" stroke="#000" stroke-width="0.9"/>
<path d="M60.5,714 V703.1 H158.5 V761.5" fill="none" stroke="#1e1e1e" stroke-width="1.25"/>
<line x1="133.2" y1="761.5" x2="181.7" y2="761.5" stroke="#1e1e1e" stroke-width="1.25"/>
<text x="110.2" y="707" font-size="18" font-weight="400" text-anchor="middle" fill="#000" >***</text>
<path d="M234.5,712 V702.5 H325.2 V796.2" fill="none" stroke="#1e1e1e" stroke-width="1.25"/>
<line x1="303.7" y1="796.2" x2="352.8" y2="796.2" stroke="#1e1e1e" stroke-width="1.25"/>
<text x="283.4" y="707" font-size="18" font-weight="400" text-anchor="middle" fill="#000" >***</text>
<path d="M179.3,872 V878.3 H352.6 V872.4" fill="none" stroke="#1e1e1e" stroke-width="1.25"/>
<text x="215.5" y="872.6" font-size="11.4" font-weight="400" text-anchor="start" fill="#1a921a" stroke="#1a921a" stroke-width="0.25">Proteolysis effect</text>
<text x="258.7" y="888.8" font-size="11.2" font-weight="400" text-anchor="middle" fill="#000" >ns</text>
</svg>
</body></html>
